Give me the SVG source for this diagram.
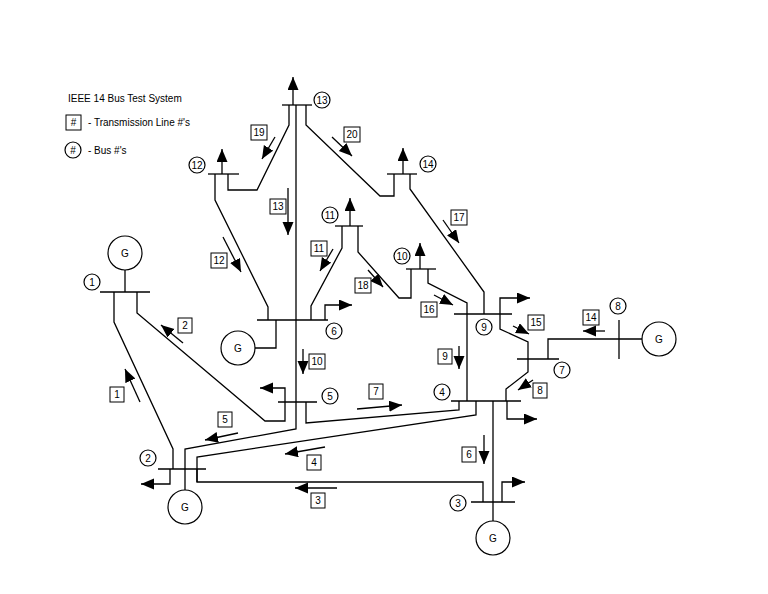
<svg xmlns="http://www.w3.org/2000/svg" width="768" height="594" viewBox="0 0 768 594">
<style>
.w{fill:none;stroke:#000;stroke-width:1.3}
.a{fill:none;stroke:#000;stroke-width:1.3;marker-end:url(#ah)}
.c{fill:#fff;stroke:#000;stroke-width:1.2}
.b{fill:#fff;stroke:#000;stroke-width:1}
text{font-family:"Liberation Sans",Arial,sans-serif;font-size:10px;fill:#000}
.m{text-anchor:middle}
</style>
<defs>
<marker id="ah" markerUnits="userSpaceOnUse" markerWidth="14" markerHeight="12" refX="13" refY="5.5" orient="auto"><path d="M0,0 L13,5.5 L0,11 z" fill="#000"/></marker>
</defs>
<rect width="768" height="594" fill="#fff"/>
<g id="legend">
<text x="68" y="102">IEEE 14 Bus Test System</text>
<rect class="b" x="66" y="115" width="15" height="15"/><text class="m" x="73.5" y="126">#</text>
<text x="88" y="126">- Transmission Line #'s</text>
<circle class="c" cx="73" cy="150" r="8"/><text class="m" x="73" y="154">#</text>
<text x="88" y="154">- Bus #'s</text>
</g>
<g id="connectors">
<!-- bus13 trunk -->
<path class="w" d="M296,105 V429 L185,449 V490"/>
<path class="w" d="M289,105 V125 L257,190 H228 V174"/>
<path class="w" d="M306,105 V125 L380,196 H394 V174"/>
<path class="w" d="M410,174 V189 L484,292 V314"/>
<path class="w" d="M215,174 V200 L268,307 V320"/>
<path class="w" d="M276,320 V348 H255"/>
<path class="w" d="M311,320 V306 L342,248 V226"/>
<path class="w" d="M358,226 V252 L399,298 H411 V269"/>
<path class="w" d="M428,269 V283 L467,303 V401"/>
<path class="w" d="M500,314 V329 L528,342 V359"/>
<path class="w" d="M548,359 V339 H642"/>
<path class="w" d="M528,359 V372 L506,389 V401"/>
<path class="w" d="M493,401 V521"/>
<path class="w" d="M483,502 V482 H197 V457 L476,415 V401"/>
<path class="w" d="M197,482 V469"/>
<path class="w" d="M173,469 V449 L114,322 V292"/>
<path class="w" d="M137,292 V313 L265,421 H285 V402"/>
<path class="w" d="M306,402 V423 L459,410 V401"/>
<path class="w" d="M125,270 V292"/>
<!-- loads -->
<path class="a" d="M293,105 V77"/>
<path class="a" d="M222,174 V149"/>
<path class="a" d="M403,174 V148"/>
<path class="a" d="M350,226 V198"/>
<path class="a" d="M420,269 V243"/>
<path class="a" d="M325,320 V305 H352"/>
<path class="a" d="M500,314 V298 H530"/>
<path class="a" d="M507,401 V419 H537"/>
<path class="a" d="M502,502 V482 H525"/>
<path class="a" d="M170,469 V484 H141"/>
<path class="a" d="M285,402 V388 H260"/>
<!-- flow arrows -->
<path class="a" d="M140,402 L125,369"/>
<path class="a" d="M183,343 L161,325"/>
<path class="a" d="M238,433 L205,440"/>
<path class="a" d="M325,447 L285,454"/>
<path class="a" d="M337,488 L295,488"/>
<path class="a" d="M357,409 L402,405"/>
<path class="a" d="M484,435 V464"/>
<path class="a" d="M533,380 L518,390"/>
<path class="a" d="M459,346 V369"/>
<path class="a" d="M303,349 V374"/>
<path class="a" d="M333,249 L320,271"/>
<path class="a" d="M368,270 L383,287"/>
<path class="a" d="M434,295 L453,305"/>
<path class="a" d="M443,220 L459,243"/>
<path class="a" d="M513,326 L529,334"/>
<path class="a" d="M223,237 L241,272"/>
<path class="a" d="M288,188 V235"/>
<path class="a" d="M275,137 L262,159"/>
<path class="a" d="M332,137 L352,156"/>
<path class="a" d="M605,331 L583,331"/>
</g>
<g id="buses">
<path class="w" d="M282,105 H312"/>
<path class="w" d="M208,174 H239"/>
<path class="w" d="M387,174 H417"/>
<path class="w" d="M335,226 H363"/>
<path class="w" d="M406,269 H436"/>
<path class="w" d="M257,320 H328"/>
<path class="w" d="M454,314 H512"/>
<path class="w" d="M517,359 H559"/>
<path class="w" d="M619,320 V359"/>
<path class="w" d="M451,401 H521"/>
<path class="w" d="M471,502 H515"/>
<path class="w" d="M158,469 H206"/>
<path class="w" d="M100,292 H150"/>
<path class="w" d="M278,402 H317"/>
</g>
<g id="generators">
<circle class="c" cx="125" cy="253" r="17"/><text class="m" x="125" y="257">G</text>
<circle class="c" cx="238" cy="348" r="17"/><text class="m" x="238" y="352">G</text>
<circle class="c" cx="659" cy="339" r="17"/><text class="m" x="659" y="343">G</text>
<circle class="c" cx="185" cy="507" r="17"/><text class="m" x="185" y="511">G</text>
<circle class="c" cx="493" cy="538" r="17"/><text class="m" x="493" y="542">G</text>
</g>
<g id="bus-labels">
<circle class="c" cx="322" cy="100" r="8"/><text class="m" x="322" y="104">13</text>
<circle class="c" cx="197" cy="165" r="8"/><text class="m" x="197" y="169">12</text>
<circle class="c" cx="428" cy="164" r="8"/><text class="m" x="428" y="168">14</text>
<circle class="c" cx="330" cy="215" r="8"/><text class="m" x="330" y="219">11</text>
<circle class="c" cx="402" cy="256" r="8"/><text class="m" x="402" y="260">10</text>
<circle class="c" cx="334" cy="331" r="8"/><text class="m" x="334" y="335">6</text>
<circle class="c" cx="484" cy="327" r="8"/><text class="m" x="484" y="331">9</text>
<circle class="c" cx="562" cy="370" r="8"/><text class="m" x="562" y="374">7</text>
<circle class="c" cx="618" cy="306" r="8"/><text class="m" x="618" y="310">8</text>
<circle class="c" cx="442" cy="392" r="8"/><text class="m" x="442" y="396">4</text>
<circle class="c" cx="330" cy="396" r="8"/><text class="m" x="330" y="400">5</text>
<circle class="c" cx="458" cy="503" r="8"/><text class="m" x="458" y="507">3</text>
<circle class="c" cx="148" cy="458" r="8"/><text class="m" x="148" y="462">2</text>
<circle class="c" cx="92" cy="282" r="8"/><text class="m" x="92" y="286">1</text>
</g>
<g id="line-labels">
<rect class="b" x="110" y="387" width="14" height="15"/><text class="m" x="117" y="398">1</text>
<rect class="b" x="178" y="318" width="14" height="15"/><text class="m" x="185" y="329">2</text>
<rect class="b" x="218" y="412" width="14" height="15"/><text class="m" x="225" y="423">5</text>
<rect class="b" x="307" y="455" width="14" height="15"/><text class="m" x="314" y="466">4</text>
<rect class="b" x="311" y="493" width="14" height="15"/><text class="m" x="318" y="504">3</text>
<rect class="b" x="369" y="384" width="14" height="15"/><text class="m" x="376" y="395">7</text>
<rect class="b" x="462" y="447" width="14" height="15"/><text class="m" x="469" y="458">6</text>
<rect class="b" x="533" y="383" width="14" height="15"/><text class="m" x="540" y="394">8</text>
<rect class="b" x="438" y="349" width="14" height="15"/><text class="m" x="445" y="360">9</text>
<rect class="b" x="309" y="354" width="16" height="15"/><text class="m" x="317" y="365">10</text>
<rect class="b" x="311" y="241" width="16" height="15"/><text class="m" x="319" y="252">11</text>
<rect class="b" x="355" y="278" width="16" height="15"/><text class="m" x="363" y="289">18</text>
<rect class="b" x="421" y="302" width="16" height="15"/><text class="m" x="429" y="313">16</text>
<rect class="b" x="451" y="210" width="16" height="15"/><text class="m" x="459" y="221">17</text>
<rect class="b" x="528" y="315" width="16" height="15"/><text class="m" x="536" y="326">15</text>
<rect class="b" x="211" y="253" width="16" height="15"/><text class="m" x="219" y="264">12</text>
<rect class="b" x="270" y="199" width="16" height="15"/><text class="m" x="278" y="210">13</text>
<rect class="b" x="251" y="125" width="16" height="15"/><text class="m" x="259" y="136">19</text>
<rect class="b" x="344" y="127" width="16" height="15"/><text class="m" x="352" y="138">20</text>
<rect class="b" x="583" y="310" width="16" height="15"/><text class="m" x="591" y="321">14</text>
</g>
</svg>
